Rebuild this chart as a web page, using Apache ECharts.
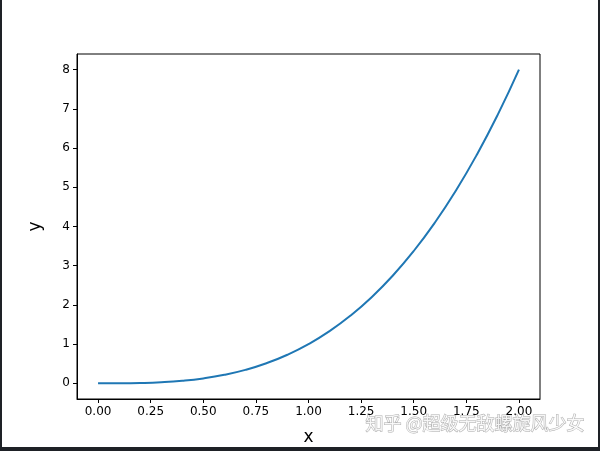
<!DOCTYPE html>
<html>
<head>
<meta charset="utf-8">
<script src="https://cdn.jsdelivr.net/npm/echarts@6/dist/echarts.min.js"></script>
<style>
html,body{margin:0;padding:0;background:#fff;}
#chart{width:600px;height:451px;}
</style>
</head>
<body>
<div id="chart"></div>
<script>
const xValues = [0, 0.1, 0.2, 0.3, 0.4, 0.5, 0.6, 0.7, 0.8, 0.9, 1.0, 1.1, 1.2, 1.3, 1.4, 1.5, 1.6, 1.7, 1.8, 1.9, 2.0];
const yValues = [0, 0.001, 0.008, 0.027, 0.064, 0.125, 0.216, 0.343, 0.512, 0.729, 1.0, 1.331, 1.728, 2.197, 2.744, 3.375, 4.096, 4.913, 5.832, 6.859, 8.0];
const xTicks = [0, 0.25, 0.5, 0.75, 1.0, 1.25, 1.5, 1.75, 2.0];
const yTicks = [0, 1, 2, 3, 4, 5, 6, 7, 8];
const xName = 'x';
const yName = 'y';
const watermark = '知乎 @超级无敌螺旋风少女';

const chart = echarts.init(document.getElementById('chart'));
const font = 'DejaVu Sans';
chart.setOption({
  animation: false,
  grid: {left: 77, right: 60, top: 54, bottom: 52, show: true, borderColor: '#000', borderWidth: 1, backgroundColor: 'transparent'},
  xAxis: {
    type: 'value', min: -0.1, max: 2.1,
    name: xName, nameLocation: 'middle', nameGap: 30,
    nameTextStyle: {fontFamily: font, fontSize: 17, color: '#000'},
    axisLine: {show: true, onZero: false, lineStyle: {color: '#000', width: 1}},
    axisTick: {show: true, length: 4, inside: false, customValues: xTicks, lineStyle: {color: '#000'}},
    axisLabel: {customValues: xTicks, fontFamily: font, fontSize: 12, color: '#000', margin: 7,
      formatter: v => v.toFixed(2)},
    splitLine: {show: false}
  },
  yAxis: {
    type: 'value', min: -0.4, max: 8.4,
    name: yName, nameLocation: 'middle', nameGap: 33, nameRotate: 90,
    nameTextStyle: {fontFamily: font, fontSize: 17, color: '#000'},
    axisLine: {show: true, onZero: false, lineStyle: {color: '#000', width: 1}},
    axisTick: {show: true, length: 4, inside: false, customValues: yTicks, lineStyle: {color: '#000'}},
    axisLabel: {customValues: yTicks, fontFamily: font, fontSize: 12, color: '#000', margin: 7,
      formatter: v => String(Math.round(v))},
    splitLine: {show: false}
  },
  series: [{
    type: 'line',
    data: xValues.map((x, i) => [x, yValues[i]]),
    smooth: true,
    showSymbol: false,
    lineStyle: {color: '#1f77b4', width: 2}
  }],
  graphic: [
    {type: 'rect', shape: {x: 0, y: 0, width: 2, height: 451}, style: {fill: '#1e2126'}},
    {type: 'rect', shape: {x: 598, y: 0, width: 2, height: 451}, style: {fill: '#1e2126'}},
    {type: 'rect', shape: {x: 0, y: 447, width: 600, height: 4}, style: {fill: '#1e2126'}},
    {type: 'text', left: 365, top: 414, style: {text: watermark, fontFamily: 'Noto Sans CJK SC', fontSize: 18,
      fill: 'rgba(255,255,255,0.85)', stroke: 'rgba(150,150,150,0.8)', lineWidth: 1}}
  ]
});
</script>
</body>
</html>
